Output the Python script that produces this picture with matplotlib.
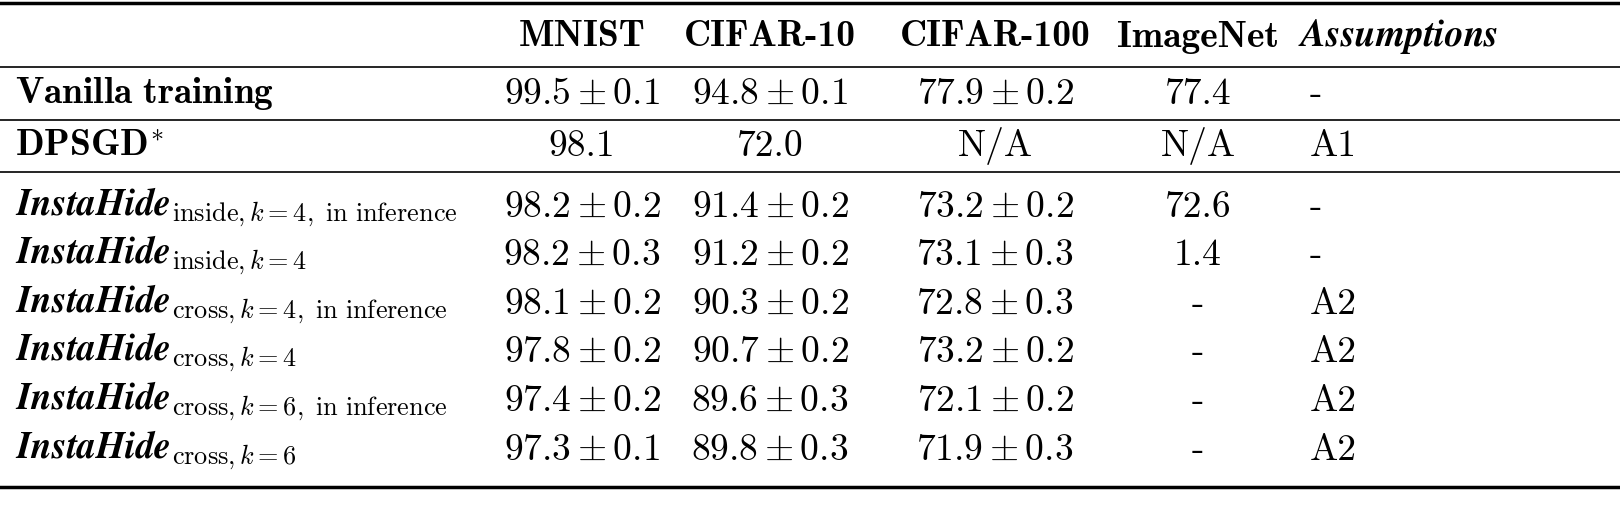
import matplotlib
matplotlib.use('Agg')
import matplotlib.pyplot as plt

plt.rcParams['mathtext.fontset'] = 'cm'
plt.rcParams['font.family'] = 'cmr10'
plt.rcParams['axes.unicode_minus'] = False

datasets = ['MNIST', 'CIFAR-10', 'CIFAR-100', 'ImageNet']
methods = [
    r'$\mathbf{Vanilla\ training}$',
    r'$\mathbf{DPSGD}^{*}$',
    r'$\mathbfit{InstaHide}_{\mathrm{inside,}k{=}4\mathrm{,\ in\ inference}}$',
    r'$\mathbfit{InstaHide}_{\mathrm{inside,}k{=}4}$',
    r'$\mathbfit{InstaHide}_{\mathrm{cross,}k{=}4\mathrm{,\ in\ inference}}$',
    r'$\mathbfit{InstaHide}_{\mathrm{cross,}k{=}4}$',
    r'$\mathbfit{InstaHide}_{\mathrm{cross,}k{=}6\mathrm{,\ in\ inference}}$',
    r'$\mathbfit{InstaHide}_{\mathrm{cross,}k{=}6}$',
]
mnist = ['99.5 ± 0.1', '98.1', '98.2 ± 0.2', '98.2 ± 0.3', '98.1 ± 0.2', '97.8 ± 0.2', '97.4 ± 0.2', '97.3 ± 0.1']
cifar10 = ['94.8 ± 0.1', '72.0', '91.4 ± 0.2', '91.2 ± 0.2', '90.3 ± 0.2', '90.7 ± 0.2', '89.6 ± 0.3', '89.8 ± 0.3']
cifar100 = ['77.9 ± 0.2', 'N/A', '73.2 ± 0.2', '73.1 ± 0.3', '72.8 ± 0.3', '73.2 ± 0.2', '72.1 ± 0.2', '71.9 ± 0.3']
imagenet = ['77.4', 'N/A', '72.6', '1.4', '-', '-', '-', '-']
assumptions = ['-', 'A1', '-', '-', 'A2', 'A2', 'A2', 'A2']

def tex(s):
    if '±' in s:
        return '$' + s.replace('±', r'\pm') + '$'
    return s

fig = plt.figure(figsize=(16.2, 5.07), dpi=100)
ax = fig.add_axes([0, 0, 1, 1])
ax.set_xlim(0, 1620)
ax.set_ylim(507, 0)
ax.axis('off')

fs = 27
col_x = [582, 770, 995, 1198]
header_y = 37
row_y = [94, 146, 207, 255, 304, 352, 401, 450]

for x, d in zip(col_x, datasets):
    ax.text(x, header_y, d, ha='center', va='center', fontsize=fs, family='cmb10')
ax.text(1298, header_y, r'$\mathbfit{Assumptions}$', ha='left', va='center', fontsize=fs)

cols = [mnist, cifar10, cifar100, imagenet]
for i, y in enumerate(row_y):
    ax.text(15, y, methods[i], ha='left', va='center', fontsize=fs)
    for x, c in zip(col_x, cols):
        ax.text(x, y, tex(c[i]), ha='center', va='center', fontsize=fs)
    ax.text(1310, y, assumptions[i], ha='left', va='center', fontsize=fs)

ax.plot([0, 1620], [3, 3], color='black', lw=2.5)
for y in [67, 120, 172]:
    ax.plot([0, 1620], [y, y], color='black', lw=1.2)
ax.plot([0, 1620], [487, 487], color='black', lw=2.5)

fig.savefig('out.png', dpi=100)
